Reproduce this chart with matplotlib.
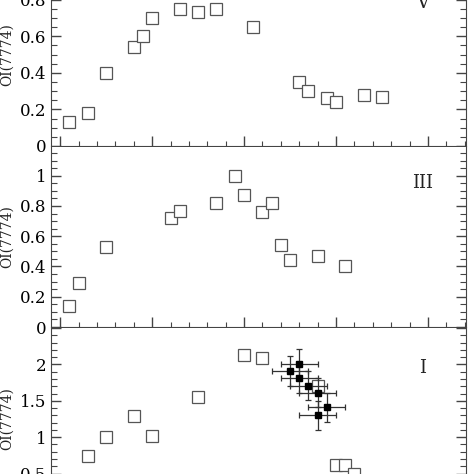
import matplotlib

matplotlib.use("Agg")
import matplotlib.pyplot as plt
from matplotlib.ticker import MultipleLocator

plt.rcParams["font.family"] = ["DejaVu Serif"]

# panel V
v_x = [0.5, 1.5, 2.5, 4.0, 4.5, 5.0, 6.5, 7.5, 8.5, 10.5, 13.0, 13.5, 14.5, 15.0, 16.5, 17.5]
v_y = [0.13, 0.18, 0.40, 0.54, 0.60, 0.70, 0.75, 0.73, 0.75, 0.65, 0.35, 0.30, 0.26, 0.24, 0.28, 0.27]

# panel III
iii_x = [0.5, 1.0, 2.5, 6.0, 6.5, 8.5, 9.5, 10.0, 11.0, 11.5, 12.0, 12.5, 14.0, 15.5]
iii_y = [0.14, 0.29, 0.53, 0.72, 0.77, 0.82, 1.0, 0.87, 0.76, 0.82, 0.54, 0.44, 0.47, 0.40]

# panel I, open squares
i_x = [1.5, 2.5, 4.0, 5.0, 7.5, 10.0, 11.0, 14.0, 15.0, 15.5, 16.0]
i_y = [0.74, 1.0, 1.29, 1.02, 1.55, 2.13, 2.09, 1.71, 0.62, 0.62, 0.5]

# panel I, filled points with errors
f_x = [12.5, 13.0, 13.0, 13.5, 14.0, 14.5, 14.0]
f_y = [1.91, 2.01, 1.81, 1.71, 1.61, 1.41, 1.30]
f_xerr = [1.0, 1.0, 1.0, 1.0, 1.0, 1.0, 1.0]
f_yerr = [0.2, 0.2, 0.2, 0.2, 0.2, 0.2, 0.2]

GREY = "#444444"

fig = plt.figure(figsize=(4.74, 4.74), dpi=100)
left, width = 51 / 474, 415 / 474

panels = [
    # bottom, height, ylim, major, minor, label, label_y
    (1 - 146 / 474, 183 / 474, (0, 1.0), 0.2, 0.05, "V", 0.78),
    (1 - 327 / 474, 180 / 474, (0, 1.19), 0.2, 0.05, "III", 0.95),
    (1 - 510 / 474, 182 / 474, (0, 2.5), 0.5, 0.1, "I", 1.95),
]


def fmt(v, p, top):
    if v >= top - 1e-6:
        return ""
    return f"{v:g}"


axes = []
for i, (bottom, height, ylim, major, minor, label, ly) in enumerate(panels):
    ax = fig.add_axes([left, bottom, width, height])
    ax.set_xlim(-0.5, 22.07)
    ax.set_ylim(*ylim)
    ax.xaxis.set_major_locator(MultipleLocator(5))
    ax.xaxis.set_minor_locator(MultipleLocator(1))
    ax.yaxis.set_major_locator(MultipleLocator(major))
    ax.yaxis.set_minor_locator(MultipleLocator(minor))
    ax.tick_params(which="both", direction="inout", top=(i == 0), bottom=True, right=True,
                   color=GREY, labelsize=12, labelbottom=False)
    ax.tick_params(which="major", length=14, width=1)
    ax.tick_params(which="minor", length=7, width=0.8)
    ax.tick_params(axis="y", which="major", length=7, direction="in")
    ax.tick_params(axis="y", which="minor", length=4, direction="in")
    for s in ax.spines.values():
        s.set_color(GREY)
    if i > 0:
        ax.spines["top"].set_visible(False)
    ax.set_ylabel("OI(7774)", fontsize=10, color="#222222", labelpad=4)
    ax.text(19.7, ly, label, fontsize=13, ha="center", va="center", color="#222222")
    top = ylim[1] if i > 0 else 99
    ax.yaxis.set_major_formatter(plt.FuncFormatter(lambda v, p, t=top: fmt(v, p, t)))
    axes.append(ax)

mk = dict(marker="s", ls="none", ms=8, mfc="white", mec="#555555", mew=0.9)
axes[0].plot(v_x, v_y, **mk)
axes[1].plot(iii_x, iii_y, **mk)
axes[2].plot(i_x, i_y, **mk)
axes[2].errorbar(f_x, f_y, xerr=f_xerr, yerr=f_yerr, fmt="s", ms=5, color="black",
                 ecolor="#333333", elinewidth=0.9, capsize=2.5, capthick=0.9)

fig.savefig("out.png", dpi=100)
